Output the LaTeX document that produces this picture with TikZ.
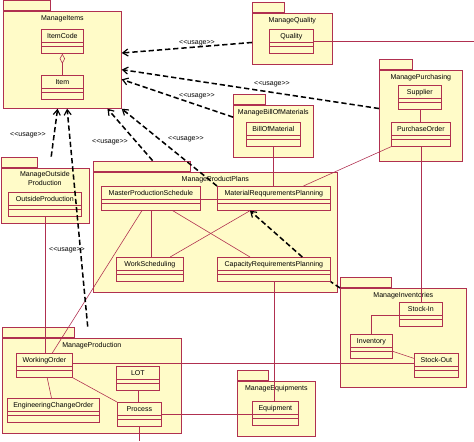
\documentclass[tikz,border=0pt]{standalone}
\usepackage{fontspec}
\setmainfont{Liberation Sans}
\usepackage{tikz}
\usetikzlibrary{arrows.meta}
\usetikzlibrary{calc}

\definecolor{pkfill}{HTML}{FFFBC8}
\definecolor{pkred}{HTML}{B03050}

\tikzset{
  pkgbody/.style 2 args={draw=pkred, fill=pkfill, line width=0.6pt, inner sep=0pt,
    anchor=north west, minimum width=#1*0.03cm, minimum height=#2*0.03cm},
  pkgtab/.style={draw=pkred, fill=pkfill, line width=0.6pt, inner sep=0pt,
    anchor=south west, minimum width=#1*0.03cm, minimum height=0.32cm},
  pkglabel/.style={anchor=north, inner sep=3.4pt, align=center,
    font=\fontsize{6}{7.6}\selectfont},
  cls/.style={draw=pkred, fill=pkfill, line width=0.6pt, anchor=north west,
    inner xsep=0pt, inner ysep=0pt, minimum width=#1*0.03cm,
    text height=0.27cm, text depth=0.45cm, font=\fontsize{6}{7}\selectfont,
    path picture={
      \draw[pkred, line width=0.6pt]
        ([yshift=-0.39cm]path picture bounding box.north west) -- ([yshift=-0.39cm]path picture bounding box.north east)
        ([yshift=-0.51cm]path picture bounding box.north west) -- ([yshift=-0.51cm]path picture bounding box.north east);}},
  link/.style={draw=pkred, line width=0.5pt},
  usageline/.style={draw=black, line width=1.3pt, dash pattern=on 4.5pt off 2.5pt},
  usage/.style={usageline, -{Straight Barb[length=4.5pt,width=6pt,line width=1pt]}},
  usagelabel/.style={inner sep=1pt, font=\fontsize{6}{7}\selectfont}
}

\newcommand\usagetext{<\kern0pt<usage>\kern0pt>}

\begin{document}
\begin{tikzpicture}[x=0.03cm, y=-0.03cm]

 \useasboundingbox (0,0) rectangle (474,441);

 % Packages
 \node[pkgbody={118}{97}] (items) at (3,11) {};
 \node[pkgtab=47] (itemstab) at (items.north west) {};
 \node[pkglabel] (itemslabel) at (items.north) {ManageItems};

 \node[pkgbody={80}{51}] (quality) at (252,13) {};
 \node[pkgtab=32] (qualitytab) at (quality.north west) {};
 \node[pkglabel] (qualitylabel) at (quality.north) {ManageQuality};

 \node[pkgbody={83}{91}] (purchasing) at (379,70) {};
 \node[pkgtab=33] (purchasingtab) at (purchasing.north west) {};
 \node[pkglabel] (purchasinglabel) at (purchasing.north) {ManagePurchasing};

 \node[pkgbody={80}{52}] (billmat) at (233,105) {};
 \node[pkgtab=32] (billmattab) at (billmat.north west) {};
 \node[pkglabel] (billmatlabel) at (billmat.north) {ManageBillOfMaterials};

 \node[pkgbody={88}{55}] (outside) at (0.5,168) {};
 \node[pkgtab=36] (outsidetab) at (outside.north west) {};
 \node[pkglabel, inner sep=2.4pt] (outsidelabel) at (outside.north) {ManageOutside\\Production};

 \node[pkgbody={244}{120}] (plans) at (93,172) {};
 \node[pkgtab=97] (planstab) at (plans.north west) {};
 \node[pkglabel] (planslabel) at (plans.north) {ManageProductPlans};

 \node[pkgbody={179}{95}] (production) at (2,338) {};
 \node[pkgtab=72] (productiontab) at (production.north west) {};
 \node[pkglabel] (productionlabel) at (production.north) {ManageProduction};

 \node[pkgbody={78}{55}] (equipments) at (237,381) {};
 \node[pkgtab=31] (equipmentstab) at (equipments.north west) {};
 \node[pkglabel] (equipmentslabel) at (equipments.north) {ManageEquipments};

 \node[pkgbody={126}{99}] (inventories) at (340,288) {};
 \node[pkgtab=51] (inventoriestab) at (inventories.north west) {};
 \node[pkglabel] (inventorieslabel) at (inventories.north) {ManageInventories};

 % Classes
 \node[cls=42] (itemcode) at (41,29) {ItemCode};
 \node[cls=42] (item) at (41,75) {Item};
 \node[cls=44] (qualitycls) at (269,29) {Quality};
 \node[cls=43] (supplier) at (398,85) {Supplier};
 \node[cls=59] (purchaseorder) at (391,122) {PurchaseOrder};
 \node[cls=54] (billofmaterial) at (246,122) {BillOfMaterial};
 \node[cls=73] (outsideproduction) at (8,192) {OutsideProduction};
 \node[cls=99] (mps) at (101,186) {MasterProductionSchedule};
 \node[cls=113] (mrp) at (217,186) {MaterialReqqurementsPlanning};
 \node[cls=67] (worksched) at (116,257) {WorkScheduling};
 \node[cls=113] (crp) at (217,257) {CapacityRequirementsPlanning};
 \node[cls=56] (workingorder) at (16,353) {WorkingOrder};
 \node[cls=92] (changeorder) at (7,398) {EngineeringChangeOrder};
 \node[cls=43] (lot) at (116,366) {LOT};
 \node[cls=44] (process) at (117,402) {Process};
 \node[cls=46] (equipment) at (252,401) {Equipment};
 \node[cls=43] (stockin) at (399,302) {Stock-In};
 \node[cls=42] (inventory) at (350,334) {Inventory};
 \node[cls=44] (stockout) at (414,353) {Stock-Out};

 % Associations
 \draw[link, {Diamond[fill=pkfill, length=0.3cm, width=0.16cm]}-] (itemcode.south) -- (item.north);
 \coordinate (rightedge) at (474,42);
 \draw[link] (qualitycls.east) -- (qualitycls.east -| rightedge);
 \draw[link] (supplier.south) -- (supplier.south |- purchaseorder.north);
 \draw[link] (purchaseorder.south west) -- ($(mrp.north west)!.76!(mrp.north east)$);
 \draw[link] (purchaseorder.south) -- (purchaseorder.south |- stockin.north);
 \draw[link] (billofmaterial.south) -- (billofmaterial.south |- mrp.north);
 \draw[link] ($(mps.north east)!.52!(mps.south east)$) -- ($(mrp.north west)!.52!(mrp.south west)$);
 \draw[link] (mps.south) -- (mps.south |- worksched.north);
 \draw[link] ($(mps.south west)!.72!(mps.south east)$) -- ($(crp.north west)!.29!(crp.north east)$);
 \draw[link] ($(mrp.south west)!.29!(mrp.south east)$) -- ($(worksched.north west)!.8!(worksched.north east)$);
 \draw[link] ($(mps.south west)!.41!(mps.south east)$) -- ($(workingorder.north west)!.64!(workingorder.north east)$);
 \draw[link] (crp.south) -- (crp.south |- equipment.north);
 \draw[link] (outsideproduction.south) -- (outsideproduction.south |- workingorder.north);
 \coordinate (woport) at ($(workingorder.north east)!.4!(workingorder.south east)$);
 \draw[link] (woport) -- (woport -| stockout.west);
 \draw[link] ($(workingorder.south west)!.55!(workingorder.south east)$) -- ($(changeorder.north west)!.48!(changeorder.north east)$);
 \draw[link] (workingorder.south east) -- (process.north west);
 \draw[link] (lot.south) -- (lot.south |- process.north);
 \draw[link] (process.east) -- (process.east -| equipment.west);
 \coordinate (bottomedge) at (139,441);
 \draw[link] (process.south) -- (process.south |- bottomedge);
 \coordinate (stockport) at ($(stockin.north west)!.52!(stockin.south west)$);
 \draw[link] (stockport) -| (inventory.north);
 \draw[link] ($(inventory.north east)!.7!(inventory.south east)$) -- ($(stockout.north west)!.22!(stockout.south west)$);

 % Usage dependencies
 \draw[usage] ($(quality.north west)!.57!(quality.south west)$) -- ($(items.north east)!.43!(items.south east)$);
 \draw[usage] ($(purchasing.north west)!.42!(purchasing.south west)$) -- ($(items.north east)!.6!(items.south east)$);
 \draw[usage] ($(billmat.north west)!.23!(billmat.south west)$) -- ($(items.north east)!.7!(items.south east)$);
 \draw[usage] ($(planstab.north west)!.61!(planstab.north east)$) -- ($(items.south west)!.88!(items.south east)$);
 \draw[usage] (mrp.north west) -- (items.south east);
 \draw[usage] ($(crp.north west)!.75!(crp.north east)$) -- ($(mrp.south west)!.29!(mrp.south east)$);
 \draw[usageline] (inventories.north west) -- (crp.south east);
 \draw[usage] ([xshift=0.42cm]outsidetab.north east) -- ($(items.south west)!.46!(items.south east)$);
 \draw[usage] ([xshift=0.39cm]productiontab.north east) -- ($(items.south west)!.54!(items.south east)$);

 % Stereotype labels
 \node[usagelabel] (usagequality) at (197,43) {\usagetext};
 \node[usagelabel] (usagepurchasing) at (272,84) {\usagetext};
 \node[usagelabel] (usagebillmat) at (197,96) {\usagetext};
 \node[usagelabel] (usageoutside) at (28,135) {\usagetext};
 \node[usagelabel] (usageplans) at (110,142) {\usagetext};
 \node[usagelabel] (usagemrp) at (186,139) {\usagetext};
 \node[usagelabel] (usageproduction) at (67,250) {\usagetext};

\end{tikzpicture}
\end{document}
